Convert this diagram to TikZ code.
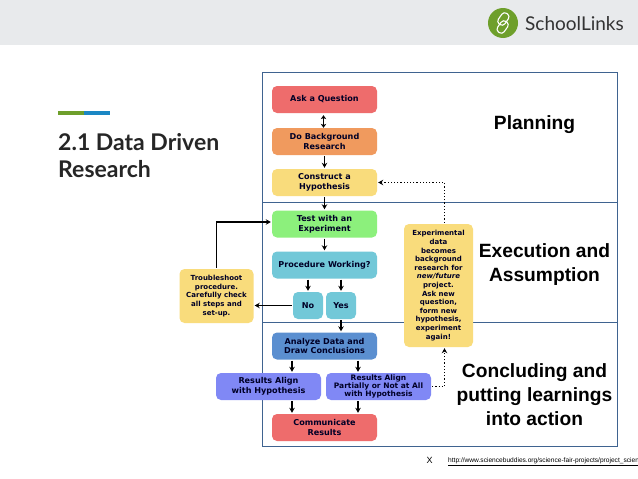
\documentclass[tikz,border=0pt]{standalone}
\usepackage{fontspec}
\usetikzlibrary{arrows.meta}
\setmainfont{DejaVu Sans}
\newfontfamily\titlefont{Lato}
\newfontfamily\labelfont{Liberation Sans}
\newfontfamily\logofont{Lato}
\definecolor{bandgray}{HTML}{E8EAEC}
\definecolor{framecol}{HTML}{3F6390}
\definecolor{logogreen}{HTML}{6E9F2B}
\definecolor{barblue}{HTML}{1B87C4}
\definecolor{redbox}{HTML}{EE6C6C}
\definecolor{orangebox}{HTML}{F09A5E}
\definecolor{yellowbox}{HTML}{F9DC7C}
\definecolor{greenbox}{HTML}{8CF07C}
\definecolor{tealbox}{HTML}{72C8D8}
\definecolor{bluebox}{HTML}{5B8FD0}
\definecolor{purplebox}{HTML}{8088F5}
\tikzset{
  stepbox/.style={rounded corners=5pt,minimum width=105pt,minimum height=27pt,inner sep=1pt,
    align=center,text=black!85!blue,font=\fontsize{8.1}{9.6}\selectfont\bfseries},
  smallbox/.style={stepbox,minimum width=30pt},
  notebox/.style={stepbox,fill=yellowbox,font=\fontsize{7}{8.6}\selectfont\bfseries},
  flow/.style={-{Stealth[length=5pt,width=5.5pt]},line width=1.2pt,shorten >=1pt,shorten <=1pt},
  dotflow/.style={flow,dotted},
  sidelabel/.style={align=center,font=\fontsize{19.2}{24}\selectfont\labelfont\bfseries}
}
\begin{document}
\begin{tikzpicture}[x=1pt,y=-1pt]
  \useasboundingbox (0,0) rectangle (638,479);
  \fill [white] (0,0) rectangle (638,479);
  % header
  \fill [bandgray] (0,0) rectangle (638,45);
  \node [circle,fill=logogreen,minimum size=30pt,inner sep=0] (logo) at (503,23) {};
  \draw [white,line width=1.1pt,rounded corners=3.5pt,rotate around={-35:(logo.center)}] (497,13) rectangle (505,26);
  \draw [white,line width=1.1pt,rounded corners=3.5pt,rotate around={-35:(logo.center)}] (501,20) rectangle (509,33);
  \node [anchor=west,inner sep=0,font=\fontsize{19}{20}\selectfont\logofont,text=black!80] (brand) at (525,24) {SchoolLinks};
  % title
  \fill [logogreen] (58,111) rectangle (84,115);
  \fill [barblue] (84,111) rectangle (110,115);
  \node [anchor=north west,inner sep=0,align=left,font=\fontsize{23}{27}\selectfont\titlefont\bfseries,text=black!85] (title) at (58,133) {2.1 Data Driven\\Research};
  % frame
  \draw [framecol,line width=1pt] (262.5,72.5) rectangle (617,446);
  \draw [framecol,line width=1.2pt] (262.5,202.5) -- (617,202.5);
  \draw [framecol,line width=1.2pt] (262.5,322.5) -- (617,322.5);
  % boxes
  \node [stepbox,fill=redbox] (ask) at (324.5,99.5) {Ask a Question};
  \node [stepbox,fill=orangebox] (back) at (324.5,141.5) {Do Background\\Research};
  \node [stepbox,fill=yellowbox] (hypo) at (324.5,182.5) {Construct a\\Hypothesis};
  \node [stepbox,fill=greenbox] (test) at (324.5,224) {Test with an\\Experiment};
  \node [stepbox,fill=tealbox] (proc) at (324.5,265) {Procedure Working?};
  \node [smallbox,fill=tealbox] (no) at (308,305.5) {No};
  \node [smallbox,fill=tealbox] (yes) at (341,305.5) {Yes};
  \node [stepbox,fill=bluebox] (data) at (324.5,346) {Analyze Data and\\Draw Conclusions};
  \node [stepbox,fill=purplebox] (align) at (268.5,386.5) {Results Align\\with Hypothesis};
  \node [stepbox,fill=purplebox,font=\fontsize{7.5}{7.6}\selectfont\bfseries] (partial) at (378.5,386.5) {Results Align\\Partially or Not at All\\with Hypothesis};
  \node [stepbox,fill=redbox] (comm) at (324.5,427.5) {Communicate\\Results};
  \node [notebox,minimum width=74pt,minimum height=54pt] (trouble) at (216.5,296) {Troubleshoot\\procedure.\\Carefully check\\all steps and\\set-up.};
  \node [notebox,minimum width=69pt,minimum height=123pt] (expt) at (438.5,285.5) {Experimental\\data\\becomes\\background\\research for\\\textit{new/future}\\project.\\Ask new\\question,\\form new\\hypothesis,\\experiment\\again!};
  % connectors
  \draw [{Stealth[length=4pt,width=5.5pt]}-{Stealth[length=4pt,width=5.5pt]},line width=1.2pt] (ask.south) ++(-1,2) coordinate (askend) -- (back.north -| askend);
  \draw [flow] (back) -- (hypo);
  \draw [flow] (hypo) -- (test);
  \draw [flow] (test) -- (proc);
  \draw [flow] (proc.south -| no) -- (no);
  \draw [flow] (proc.south -| yes) -- (yes);
  \draw [flow] (yes) -- (data.north -| yes);
  \draw [flow] (data.south -| 292,0) -- (align.north -| 292,0);
  \draw [flow] (data.south -| 358,0) -- (partial.north -| 358,0);
  \draw [flow] (align.south -| 292,0) -- (comm.north -| 292,0);
  \draw [flow] (partial.south -| 358,0) -- (comm.north -| 358,0);
  \draw [flow] (no.west) -- (no.west -| trouble.east);
  \draw [flow] (trouble.north) |- ([yshift=2pt]test.west);
  \draw [dotflow] (expt.north -| 444.5,0) |- (hypo.east);
  \draw [dotflow] (partial.east) -| (expt.south -| 444.5,0);
  % labels
  \node [sidelabel] (plan) at (534.5,125) {Planning};
  \node [sidelabel] (exec) at (544.5,265) {Execution and\\Assumption};
  \node [sidelabel] (conc) at (534.5,395) {Concluding and\\putting learnings\\into action};
  % source
  \node [inner sep=0,font=\fontsize{9}{10}\selectfont\labelfont] (mark) at (429.5,460) {X};
  \node [anchor=west,inner sep=0,font=\fontsize{6.6}{8}\selectfont\labelfont] (source) at (448,462) {\underline{http://www.sciencebuddies.org/science-fair-projects/project\_scien}};
\end{tikzpicture}
\end{document}
